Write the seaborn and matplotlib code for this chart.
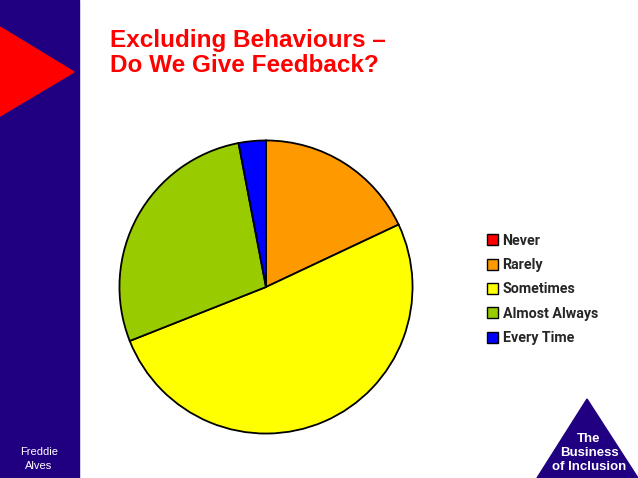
import seaborn as sns
import matplotlib.pyplot as plt
from matplotlib.patches import Polygon, Rectangle, Patch

categories = ["Never", "Rarely", "Sometimes", "Almost Always", "Every Time"]
values = [0, 18, 51, 28, 3]
colors = ["#FF0000", "#FF9900", "#FFFF00", "#99CC00", "#0000FF"]

sns.set_style("white")
plt.rcParams['font.family'] = ['Liberation Sans', 'DejaVu Sans']

fig = plt.figure(figsize=(6.38, 4.78), dpi=100)
W, H = 638, 478

# slide decoration
fig.patches.append(Rectangle((0, 0), 79 / W, 1, transform=fig.transFigure,
                             color="#200080", zorder=0))
fig.patches.append(Polygon([(0, 1 - 27 / H), (74 / W, 1 - 72 / H), (0, 1 - 116 / H)],
                           closed=True, transform=fig.transFigure, color="#FF0000", zorder=1))
fig.patches.append(Polygon([(537 / W, 0), (587 / W, 1 - 399 / H), (638 / W, 0)],
                           closed=True, transform=fig.transFigure, color="#200080", zorder=0))

fig.text(110 / W, 1 - 53 / H, "Excluding Behaviours \u2013\nDo We Give Feedback?",
         color="#FF0000", fontsize=17.5, fontweight="bold", va="center", ha="left",
         linespacing=1.12)
fig.text(39 / W, 1 - 459 / H, "Freddie\nAlves", color="white", fontsize=8,
         ha="center", va="center", linespacing=1.4)
fig.text(589 / W, 1 - 453 / H, "The\nBusiness\nof Inclusion", color="white", fontsize=9.5,
         fontweight="bold", ha="center", va="center", linespacing=1.22)

# pie
cx, cy, r = 266, 287, 148
ax = fig.add_axes([(cx - r) / W, (H - cy - r) / H, 2 * r / W, 2 * r / H])
ax.pie(values, colors=colors, startangle=90, counterclock=False,
       wedgeprops=dict(edgecolor="black", linewidth=1.3))
ax.set_xlim(-1.01, 1.01)
ax.set_ylim(-1.01, 1.01)
ax.set_aspect("equal")

handles = [Patch(facecolor=c, edgecolor="black", linewidth=1) for c in colors]
leg = fig.legend(handles, categories, loc="upper left",
                 bbox_to_anchor=(474 / W, 1 - 221 / H), frameon=False,
                 handlelength=0.8, handleheight=0.8, handletextpad=0.3,
                 labelspacing=0.72,
                 prop=dict(family=['Roboto', 'Liberation Sans'],
                           weight="bold", size=10.3))

fig.savefig("out.png", dpi=100)
